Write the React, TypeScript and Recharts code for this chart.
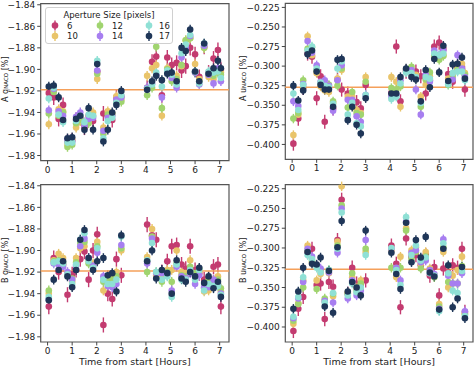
import React from "react";
import {
  ScatterChart,
  Scatter,
  XAxis,
  YAxis,
  ErrorBar,
  ReferenceLine,
  ReferenceArea,
} from "recharts";

const FONT = "DejaVu Sans, sans-serif";

// time of each exposure (hours from start)
const TIMES = [
  0.05, 0.25, 0.45, 0.63, 0.81, 1.0, 1.16, 1.33, 1.5, 1.67, 1.85, 2.02, 2.27, 2.45, 2.63, 2.8, 3.0,
  4.05, 4.25, 4.42, 4.65, 4.87, 5.05, 5.25, 5.45, 5.62, 5.8, 6.0, 6.17, 6.37, 6.55, 6.75, 6.93, 7.05,
];

const APERTURES = ["6", "10", "12", "14", "16", "17"];
const COLORS = ["#c33b70", "#e9c46a", "#a0d46f", "#a77ef0", "#8fe0d5", "#1f3658"];

// A q_NACO
const aq6 = [-1.922, -1.926, -1.946, -1.933, -1.967, -1.966, -1.947, -1.945, -1.954, -1.943, -1.948, -1.902, -1.941, -1.943, -1.947, -1.926, -1.925,
  -1.917, -1.893, -1.888, -1.924, -1.889, -1.896, -1.894, -1.901, -1.897, -1.880, -1.886, -1.907, -1.879, -1.903, -1.890, -1.882, -1.900];
const aq10 = [-1.951, -1.919, -1.937, -1.939, -1.970, -1.965, -1.954, -1.948, -1.950, -1.948, -1.940, -1.909, -1.954, -1.939, -1.941, -1.925, -1.928,
  -1.906, -1.899, -1.896, -1.943, -1.899, -1.906, -1.906, -1.897, -1.873, -1.871, -1.895, -1.909, -1.880, -1.907, -1.909, -1.902, -1.903];
const aq12 = [-1.941, -1.921, -1.943, -1.940, -1.972, -1.970, -1.950, -1.947, -1.951, -1.950, -1.943, -1.904, -1.960, -1.942, -1.942, -1.930, -1.930,
  -1.924, -1.917, -1.879, -1.936, -1.900, -1.911, -1.909, -1.896, -1.873, -1.871, -1.903, -1.911, -1.880, -1.905, -1.906, -1.903, -1.905];
const aq14 = [-1.938, -1.918, -1.939, -1.943, -1.965, -1.967, -1.944, -1.940, -1.952, -1.946, -1.945, -1.901, -1.957, -1.945, -1.943, -1.928, -1.926,
  -1.917, -1.913, -1.905, -1.926, -1.902, -1.908, -1.917, -1.889, -1.880, -1.869, -1.903, -1.914, -1.878, -1.905, -1.913, -1.899, -1.911];
const aq16 = [-1.927, -1.917, -1.942, -1.949, -1.968, -1.968, -1.948, -1.943, -1.949, -1.942, -1.943, -1.892, -1.964, -1.948, -1.945, -1.931, -1.924,
  -1.918, -1.914, -1.903, -1.916, -1.901, -1.905, -1.914, -1.885, -1.877, -1.868, -1.902, -1.913, -1.876, -1.902, -1.903, -1.902, -1.908];
const aq17 = [-1.916, -1.915, -1.926, -1.947, -1.964, -1.963, -1.946, -1.943, -1.956, -1.936, -1.956, -1.895, -1.967, -1.956, -1.940, -1.933, -1.920,
  -1.919, -1.911, -1.906, -1.910, -1.904, -1.903, -1.911, -1.880, -1.883, -1.863, -1.902, -1.911, -1.876, -1.904, -1.899, -1.892, -1.899];

// A u_NACO
const au6 = [-0.399, -0.367, -0.328, -0.284, -0.288, -0.341, -0.313, -0.371, -0.328, -0.354, -0.317, -0.330, -0.335, -0.345, -0.346, -0.354, -0.324,
  -0.334, -0.275, -0.345, -0.307, -0.307, -0.307, -0.313, -0.335, -0.318, -0.275, -0.270, -0.278, -0.310, -0.320, -0.301, -0.301, -0.330];
const au10 = [-0.388, -0.362, -0.327, -0.262, -0.286, -0.309, -0.326, -0.331, -0.333, -0.347, -0.316, -0.305, -0.339, -0.339, -0.356, -0.360, -0.314,
  -0.314, -0.320, -0.352, -0.306, -0.310, -0.311, -0.339, -0.324, -0.313, -0.288, -0.290, -0.286, -0.316, -0.311, -0.303, -0.297, -0.309];
const au12 = [-0.367, -0.360, -0.318, -0.278, -0.276, -0.305, -0.322, -0.327, -0.324, -0.345, -0.325, -0.303, -0.353, -0.333, -0.360, -0.362, -0.320,
  -0.328, -0.330, -0.326, -0.304, -0.301, -0.316, -0.352, -0.317, -0.308, -0.286, -0.292, -0.287, -0.324, -0.314, -0.305, -0.305, -0.311];
const au14 = [-0.345, -0.351, -0.323, -0.268, -0.283, -0.299, -0.320, -0.318, -0.325, -0.357, -0.318, -0.299, -0.343, -0.343, -0.364, -0.371, -0.337,
  -0.339, -0.337, -0.318, -0.305, -0.305, -0.330, -0.362, -0.311, -0.320, -0.280, -0.286, -0.280, -0.321, -0.317, -0.286, -0.303, -0.314];
const au16 = [-0.335, -0.356, -0.324, -0.280, -0.275, -0.303, -0.321, -0.325, -0.327, -0.348, -0.303, -0.294, -0.362, -0.347, -0.373, -0.377, -0.337,
  -0.342, -0.339, -0.322, -0.308, -0.309, -0.314, -0.347, -0.314, -0.316, -0.284, -0.286, -0.284, -0.323, -0.309, -0.307, -0.307, -0.318];
const au17 = [-0.325, -0.344, -0.331, -0.285, -0.280, -0.307, -0.324, -0.330, -0.330, -0.352, -0.292, -0.291, -0.369, -0.352, -0.375, -0.386, -0.341,
  -0.335, -0.335, -0.314, -0.303, -0.314, -0.317, -0.345, -0.305, -0.327, -0.291, -0.308, -0.274, -0.319, -0.298, -0.297, -0.289, -0.316];

// B q_NACO
const bq6 = [-1.952, -1.907, -1.920, -1.913, -1.941, -1.922, -1.918, -1.908, -1.901, -1.927, -1.900, -1.885, -1.969, -1.940, -1.945, -1.908, -1.923,
  -1.876, -1.886, -1.890, -1.920, -1.910, -1.896, -1.895, -1.913, -1.917, -1.896, -1.918, -1.921, -1.927, -1.927, -1.915, -1.913, -1.952];
const bq10 = [-1.940, -1.909, -1.903, -1.907, -1.921, -1.929, -1.907, -1.898, -1.896, -1.909, -1.912, -1.892, -1.937, -1.929, -1.924, -1.920, -1.900,
  -1.906, -1.880, -1.923, -1.924, -1.918, -1.918, -1.900, -1.920, -1.921, -1.909, -1.923, -1.920, -1.938, -1.937, -1.927, -1.924, -1.938];
const bq12 = [-1.937, -1.910, -1.909, -1.911, -1.923, -1.926, -1.911, -1.893, -1.892, -1.912, -1.915, -1.896, -1.929, -1.927, -1.927, -1.924, -1.898,
  -1.920, -1.887, -1.920, -1.929, -1.920, -1.929, -1.912, -1.923, -1.924, -1.915, -1.921, -1.917, -1.935, -1.927, -1.930, -1.927, -1.935];
const bq14 = [-1.945, -1.912, -1.913, -1.915, -1.920, -1.927, -1.914, -1.896, -1.889, -1.907, -1.914, -1.902, -1.924, -1.933, -1.934, -1.931, -1.895,
  -1.912, -1.889, -1.921, -1.921, -1.923, -1.937, -1.915, -1.924, -1.926, -1.921, -1.931, -1.923, -1.934, -1.934, -1.927, -1.932, -1.940];
const bq16 = [-1.943, -1.911, -1.910, -1.912, -1.922, -1.931, -1.913, -1.890, -1.884, -1.910, -1.916, -1.898, -1.927, -1.931, -1.931, -1.927, -1.887,
  -1.909, -1.893, -1.920, -1.927, -1.924, -1.943, -1.913, -1.927, -1.927, -1.918, -1.927, -1.918, -1.937, -1.931, -1.933, -1.933, -1.941];
const bq17 = [-1.946, -1.927, -1.918, -1.910, -1.924, -1.934, -1.918, -1.890, -1.881, -1.907, -1.918, -1.910, -1.907, -1.923, -1.921, -1.938, -1.886,
  -1.910, -1.900, -1.926, -1.918, -1.921, -1.940, -1.909, -1.926, -1.929, -1.920, -1.924, -1.916, -1.930, -1.924, -1.935, -1.929, -1.943];

// B u_NACO
const bu6 = [-0.405, -0.377, -0.362, -0.305, -0.301, -0.347, -0.345, -0.390, -0.343, -0.349, -0.290, -0.239, -0.358, -0.325, -0.345, -0.346, -0.341,
  -0.297, -0.320, -0.375, -0.288, -0.311, -0.309, -0.322, -0.309, -0.335, -0.324, -0.360, -0.326, -0.331, -0.322, -0.325, -0.301, -0.381];
const bu10 = [-0.396, -0.370, -0.341, -0.297, -0.318, -0.341, -0.333, -0.367, -0.332, -0.361, -0.292, -0.222, -0.356, -0.337, -0.349, -0.341, -0.305,
  -0.303, -0.337, -0.311, -0.275, -0.303, -0.299, -0.320, -0.305, -0.326, -0.334, -0.371, -0.305, -0.350, -0.335, -0.328, -0.311, -0.383];
const bu12 = [-0.392, -0.371, -0.350, -0.303, -0.316, -0.352, -0.328, -0.364, -0.328, -0.358, -0.297, -0.246, -0.358, -0.332, -0.354, -0.345, -0.301,
  -0.325, -0.328, -0.325, -0.278, -0.314, -0.305, -0.326, -0.311, -0.328, -0.337, -0.374, -0.299, -0.343, -0.345, -0.345, -0.323, -0.384];
const bu14 = [-0.389, -0.364, -0.343, -0.301, -0.311, -0.322, -0.326, -0.367, -0.331, -0.369, -0.306, -0.250, -0.364, -0.341, -0.360, -0.354, -0.290,
  -0.301, -0.325, -0.341, -0.267, -0.306, -0.303, -0.318, -0.316, -0.328, -0.333, -0.377, -0.289, -0.335, -0.345, -0.345, -0.332, -0.380];
const bu16 = [-0.387, -0.362, -0.337, -0.309, -0.314, -0.325, -0.331, -0.369, -0.328, -0.357, -0.301, -0.255, -0.360, -0.345, -0.356, -0.350, -0.309,
  -0.300, -0.328, -0.347, -0.261, -0.309, -0.297, -0.316, -0.312, -0.332, -0.335, -0.380, -0.294, -0.332, -0.354, -0.357, -0.329, -0.386];
const bu17 = [-0.377, -0.355, -0.325, -0.305, -0.320, -0.321, -0.312, -0.374, -0.329, -0.382, -0.299, -0.266, -0.355, -0.343, -0.350, -0.360, -0.278,
  -0.306, -0.333, -0.352, -0.268, -0.318, -0.290, -0.312, -0.286, -0.331, -0.336, -0.378, -0.301, -0.322, -0.375, -0.364, -0.324, -0.389];

// 1-sigma error per aperture
const Q_ERR = [0.007, 0.0045, 0.0045, 0.0045, 0.0045, 0.0045];
const U_ERR = [0.009, 0.006, 0.006, 0.006, 0.006, 0.006];

// weighted mean lines
const Q_MEAN = -1.919;
const U_MEAN = -0.327;

const X_DOMAIN = [-0.28, 7.38];
const X_TICKS = [0, 1, 2, 3, 4, 5, 6, 7];
const Q_DOMAIN = [-1.9848, -1.839];
const Q_TICKS = [-1.98, -1.96, -1.94, -1.92, -1.9, -1.88, -1.86, -1.84];
const U_DOMAIN = [-0.419, -0.2199];
const U_TICKS = [-0.4, -0.375, -0.35, -0.325, -0.3, -0.275, -0.25, -0.225];

const fmtQ = (v: number) => v.toFixed(2).replace("-", "\u2212");
const fmtU = (v: number) => v.toFixed(3).replace("-", "\u2212");

const Dot = (p: any) => <circle cx={p.cx} cy={p.cy} r={3.3} fill={p.fill} />;

const YLabel = (props: any) => {
  const { viewBox, text, sym, dx } = props;
  const cx = viewBox.x + dx;
  const cy = viewBox.y + viewBox.height / 2 - 3;
  return (
    <text
      transform={`translate(${cx},${cy}) rotate(-90)`}
      textAnchor="middle"
      dominantBaseline="central"
      fontSize={8}
      fontFamily={FONT}
      fill="#222"
    >
      <tspan>{text} {sym}</tspan>
      <tspan fontSize={5.5} dy={1.3}>NACO</tspan>
      <tspan dy={-1.3}> [%]</tspan>
    </text>
  );
};

const XLabel = (props: any) => {
  const { viewBox } = props;
  return (
    <text
      x={viewBox.x + viewBox.width / 2}
      y={viewBox.y + viewBox.height - 1}
      textAnchor="middle"
      fontSize={9.5}
      fontFamily={FONT}
      fill="#222"
    >
      Time from start [Hours]
    </text>
  );
};

function Panel(props: any) {
  const { left, top, width, height, margin, yWidth, xHeight, domain, ticks, fmt, mean, series, err, text, sym, labelDx, xLabel } = props;
  return (
    <div style={{ position: "absolute", left, top }}>
      <ScatterChart width={width} height={height} margin={margin}>
        <XAxis
          type="number"
          dataKey="t"
          domain={X_DOMAIN}
          ticks={X_TICKS}
          allowDataOverflow
          axisLine={false}
          tickSize={3.5}
          tickLine={{ stroke: "#444" }}
          tick={{ fontSize: 9, fill: "#222", fontFamily: FONT }}
          height={xHeight}
          label={xLabel ? <XLabel /> : undefined}
        />
        <YAxis
          type="number"
          dataKey="v"
          domain={domain}
          ticks={ticks}
          allowDataOverflow
          tickFormatter={fmt}
          axisLine={false}
          tickSize={3.5}
          tickLine={{ stroke: "#444" }}
          tick={{ fontSize: 9, fill: "#222", fontFamily: FONT }}
          width={yWidth}
          label={<YLabel text={text} sym={sym} dx={labelDx} />}
        />
        {series.map((vals: number[], k: number) => (
          <Scatter
            key={APERTURES[k]}
            name={APERTURES[k]}
            data={TIMES.map((t, i) => ({ t, v: vals[i], e: err[k] }))}
            fill={COLORS[k]}
            shape={Dot}
            isAnimationActive={false}
          >
            <ErrorBar dataKey="e" direction="y" width={0} stroke={COLORS[k]} strokeWidth={1.4} isAnimationActive={false} />
          </Scatter>
        ))}
        <ReferenceLine y={mean} stroke="#f5a05a" strokeWidth={1.5} />
        <ReferenceArea x1={X_DOMAIN[0]} x2={X_DOMAIN[1]} y1={domain[0]} y2={domain[1]} fill="none" stroke="#555" strokeWidth={1.2} />
      </ScatterChart>
    </div>
  );
}

function ApertureLegend() {
  const cols = [
    { mx: 10, tx: 22 },
    { mx: 55, tx: 67 },
    { mx: 104, tx: 114 },
  ];
  const rows = [18.5, 29];
  return (
    <div
      style={{
        position: "absolute",
        left: 45,
        top: 6.5,
        width: 128,
        height: 37,
        border: "1px solid #d0d0d0",
        borderRadius: 3,
        background: "rgba(255,255,255,0.8)",
        boxSizing: "border-box",
      }}
    >
      <svg width={128} height={37} style={{ position: "absolute", left: -1, top: -1, overflow: "visible" }}>
        <text x={64} y={10.5} textAnchor="middle" fontSize={8.5} fontFamily={FONT} fill="#222">
          Aperture Size [pixels]
        </text>
        {APERTURES.map((a, k) => {
          const c = cols[Math.floor(k / 2)];
          const y = rows[k % 2];
          return (
            <g key={a}>
              <line x1={c.mx} x2={c.mx} y1={y - 5} y2={y + 5} stroke={COLORS[k]} strokeWidth={1.4} />
              <circle cx={c.mx} cy={y} r={3.3} fill={COLORS[k]} />
              <text x={c.tx} y={y} dominantBaseline="central" fontSize={8.5} fontFamily={FONT} fill="#222">
                {a}
              </text>
            </g>
          );
        })}
      </svg>
    </div>
  );
}

export default function App() {
  return (
    <div style={{ position: "absolute", left: 0, top: 0, width: 474, height: 366, background: "#fff", overflow: "hidden" }}>
      <Panel
        left={0} top={0} width={235} height={180}
        margin={{ top: 3.7, right: 6, bottom: 0.3, left: 0 }}
        yWidth={40.7} xHeight={19}
        domain={Q_DOMAIN} ticks={Q_TICKS} fmt={fmtQ} mean={Q_MEAN}
        series={[aq6, aq10, aq12, aq14, aq16, aq17]} err={Q_ERR}
        text="A" sym="q" labelDx={4.5}
      />
      <Panel
        left={237} top={0} width={237} height={180}
        margin={{ top: 3.4, right: 1, bottom: 1.7, left: 0 }}
        yWidth={48.3} xHeight={19}
        domain={U_DOMAIN} ticks={U_TICKS} fmt={fmtU} mean={U_MEAN}
        series={[au6, au10, au12, au14, au16, au17]} err={U_ERR}
        text="A" sym="u" labelDx={5.5}
      />
      <Panel
        left={0} top={180} width={235} height={186}
        margin={{ top: 4.7, right: 6, bottom: 0, left: 0 }}
        yWidth={40.7} xHeight={24}
        domain={Q_DOMAIN} ticks={Q_TICKS} fmt={fmtQ} mean={Q_MEAN}
        series={[bq6, bq10, bq12, bq14, bq16, bq17]} err={Q_ERR}
        text="B" sym="q" labelDx={4.5} xLabel
      />
      <Panel
        left={237} top={180} width={237} height={186}
        margin={{ top: 4.7, right: 1, bottom: 0, left: 0 }}
        yWidth={48.3} xHeight={24}
        domain={U_DOMAIN} ticks={U_TICKS} fmt={fmtU} mean={U_MEAN}
        series={[bu6, bu10, bu12, bu14, bu16, bu17]} err={U_ERR}
        text="B" sym="u" labelDx={5.5} xLabel
      />
      <ApertureLegend />
    </div>
  );
}
